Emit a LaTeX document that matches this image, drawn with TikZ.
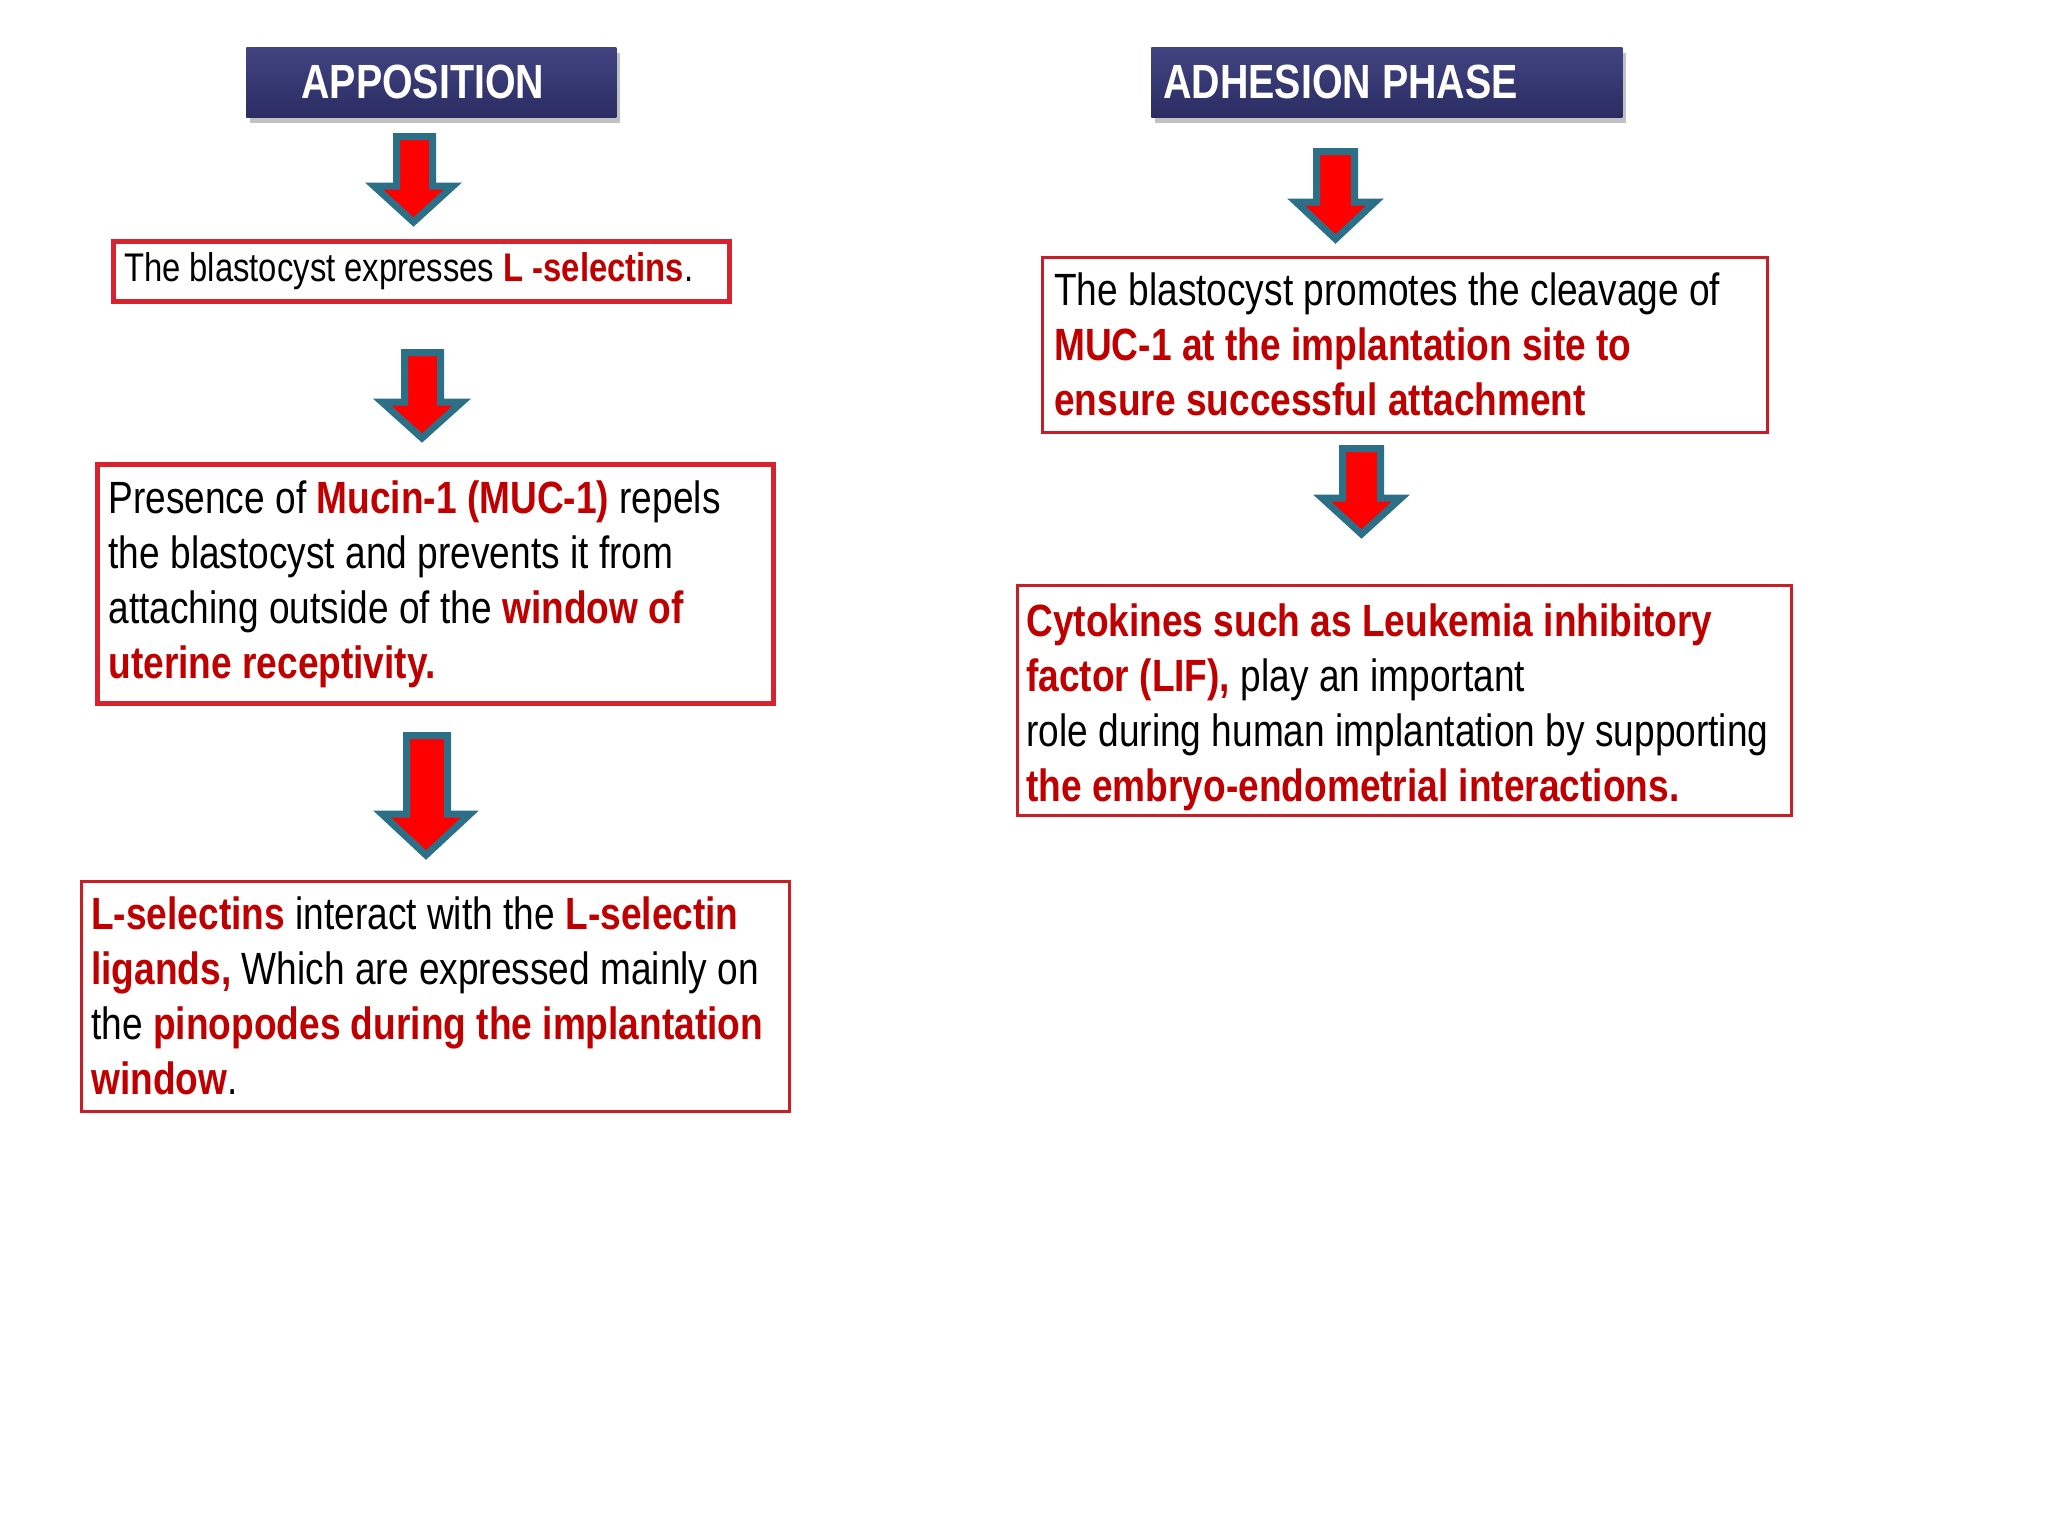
\documentclass[tikz,border=0pt]{standalone}
\usepackage{fontspec}
\setmainfont{Liberation Sans}[FakeStretch=0.82]
\usetikzlibrary{shadows}
\hyphenpenalty=10000
\exhyphenpenalty=10000
\definecolor{hdtop}{RGB}{66,68,130}
\definecolor{hdbot}{RGB}{42,44,98}
\definecolor{boxred}{RGB}{216,34,46}
\definecolor{thinred}{RGB}{200,30,40}
\definecolor{txtred}{RGB}{192,0,0}
\definecolor{arrred}{RGB}{255,0,0}
\definecolor{arrteal}{RGB}{44,112,135}
\newcommand\rt[1]{\textcolor{txtred}{\bfseries #1}}
\newcommand\tsp{\spaceskip=0.23em\relax\xspaceskip=0.25em\relax}
\newcommand\dnarrow[7]{%
  \draw[blockarrow] (#1,#5) -- (#2,#5) -- (#2,#6) -- (#4,#6) -- ({(#3+#4)/2},#7) -- (#3,#6) -- (#1,#6) -- cycle;}
\tikzset{
  header/.style={top color=hdtop, bottom color=hdbot, draw=none, text=white,
    font=\bfseries\fontsize{24}{28}\selectfont, anchor=north west, align=left,
    inner ysep=0pt, drop shadow={shadow xshift=2pt, shadow yshift=-3pt, fill=black!40, opacity=0.6}},
  textbox/.style={anchor=north west, align=left, inner ysep=0pt,
    font=\fontsize{22.6}{27.5}\selectfont},
  thickbox/.style={textbox, draw=boxred, line width=2.5pt},
  thinbox/.style={textbox, draw=thinred, line width=1.3pt},
  blockarrow/.style={fill=arrred, draw=arrteal, line width=3.5pt, line join=miter}
}
\begin{document}
\begin{tikzpicture}[x=0.5pt,y=-0.5pt]
\useasboundingbox (0,0) rectangle (2048,1536);
\fill[white] (0,0) rectangle (2048,1536);

% headers
\node[header, minimum height=35pt, inner xsep=27.5pt, text width=130pt] (hApp) at (246,47) {\tsp APPOSITION};
\node[header, minimum height=35pt, inner xsep=6pt, text width=223.5pt] (hAdh) at (1151,47) {\tsp ADHESION PHASE};

% left column
\node[thickbox, minimum height=30pt, inner xsep=5.25pt, text width=297.5pt,
  font=\fontsize{20}{24}\selectfont] (b1) at (111,239)
  {\tsp The blastocyst expresses \rt{L -selectins}.};
\node[thickbox, minimum height=119.5pt, inner xsep=5.5pt, text width=327pt] (b2) at (95,462)
  {\tsp Presence of \rt{Mucin-1 (MUC-1)} repels\\
   the blastocyst and prevents it from\\
   attaching outside of the \rt{window of}\\
   \rt{uterine receptivity.}};
\node[thinbox, minimum height=115pt, inner xsep=5pt, text width=344pt] (b3) at (80,880)
  {\tsp \mbox{\rt{L-selectins} interact with the \rt{L-selectin}}\\
   \mbox{\rt{ligands,} Which are expressed mainly on}\\
   \mbox{the \rt{pinopodes during the implantation}}\\
   \rt{window}.};

% right column
\node[thinbox, minimum height=87.5pt, inner xsep=6pt, text width=350.5pt] (b4) at (1041,256)
  {\tsp \mbox{The blastocyst promotes the cleavage of}\\
   \rt{MUC-1 at the implantation site to}\\
   \rt{ensure successful attachment}};
\node[thinbox, minimum height=115pt, inner xsep=4.5pt, text width=378pt] (b5) at (1016,584)
  {\tsp \rule{0pt}{23pt}\mbox{\rt{Cytokines such as Leukemia inhibitory}}\\
   \rt{factor (LIF),} play an important\\
   \mbox{role during human implantation by supporting}\\
   \mbox{\rt{the embryo-endometrial interactions.}}};

% block arrows
\dnarrow{396.5}{432.5}{374}{453}{136.5}{186}{222}
\dnarrow{404.5}{440.5}{382}{462}{352.5}{402}{438}
\dnarrow{406.5}{447.5}{382}{470}{735.5}{814}{855}
\dnarrow{1316.5}{1354.5}{1296}{1375}{151.5}{202}{239}
\dnarrow{1342.5}{1380.5}{1322}{1401}{448.5}{498}{534}
\end{tikzpicture}
\end{document}
